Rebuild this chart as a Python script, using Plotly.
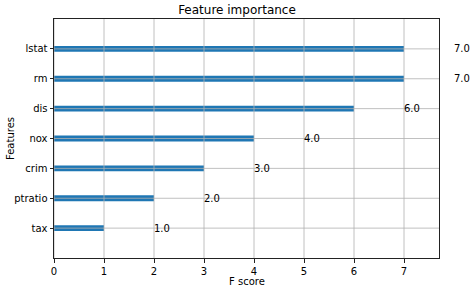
import plotly.graph_objects as go

features = ["tax", "ptratio", "crim", "nox", "dis", "rm", "lstat"]
scores = [1.0, 2.0, 3.0, 4.0, 6.0, 7.0, 7.0]
x_ticks = [0, 1, 2, 3, 4, 5, 6, 7]
labels = [f"{v:.1f}" for v in scores]
x_max = max(scores) * 1.1

FONT = "DejaVu Sans"
fig = go.Figure()
fig.add_trace(go.Bar(
    x=scores, y=features, orientation="h", width=0.2,
    marker=dict(color="#1f77b4", line=dict(width=0)),
    showlegend=False, hoverinfo="skip",
))

annotations = []
for f, v, lab in zip(features, scores, labels):
    annotations.append(dict(xref="paper", yref="y", x=(v + 1) / x_max, y=f, text=lab,
                            showarrow=False, xanchor="left", yanchor="middle", xshift=-2,
                            font=dict(family=FONT, size=10, color="black")))
# axis titles
annotations.append(dict(xref="paper", yref="paper", x=0.5, y=-0.1, text="F score",
                        showarrow=False, xanchor="center", yanchor="middle",
                        font=dict(family=FONT, size=10, color="black")))
annotations.append(dict(xref="paper", yref="paper", x=-0.113, y=0.5, text="Features",
                        showarrow=False, xanchor="center", yanchor="middle", textangle=-90,
                        font=dict(family=FONT, size=10, color="black")))

shapes = []
for t in x_ticks:
    shapes.append(dict(type="line", xref="x", yref="paper", x0=t, x1=t, y0=0, y1=1,
                       line=dict(color="#b0b0b0", width=0.8), layer="above"))
for f in features:
    shapes.append(dict(type="line", xref="paper", yref="y", x0=0, x1=1, y0=f, y1=f,
                       line=dict(color="#b0b0b0", width=0.8), layer="above"))

fig.update_layout(
    width=474, height=291,
    margin=dict(l=53.5, r=35, t=19, b=33),
    paper_bgcolor="white", plot_bgcolor="white",
    font=dict(family=FONT, size=10, color="black"),
    title=dict(text="Feature importance", x=0.5, xanchor="center", y=0.965, yanchor="middle",
               font=dict(family=FONT, size=12, color="black")),
    shapes=shapes,
    annotations=annotations,
    xaxis=dict(range=[0, x_max], tickvals=x_ticks, ticktext=[str(t) for t in x_ticks],
               showgrid=False, zeroline=False, showline=True, mirror=True, automargin=False,
               linecolor="#222", linewidth=1, ticks="outside", ticklen=3.5, tickcolor="#222"),
    yaxis=dict(type="category", categoryorder="array", categoryarray=features,
               range=[-1, 7], showgrid=False, zeroline=False, showline=True, mirror=True,
               automargin=False,
               linecolor="#222", linewidth=1, ticks="outside", ticklen=3.5, tickcolor="#222"),
)
fig.write_html("out.html")
